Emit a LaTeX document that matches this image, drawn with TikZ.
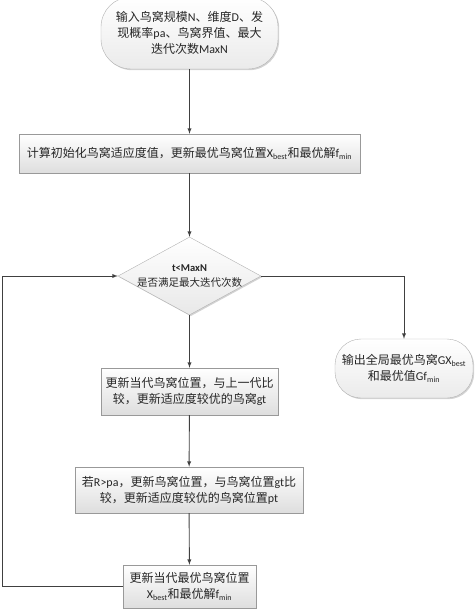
\documentclass[tikz,border=0pt]{standalone}
\usepackage{fontspec}
\setmainfont{Noto Sans CJK SC}
\newfontfamily\carlito{Carlito}
\newcommand{\lt}[1]{{\carlito #1}}
\usetikzlibrary{shapes.geometric,shadows}

\begin{document}
\begin{tikzpicture}[x=1pt,y=-1pt,>=latex,
 every node/.style={text=black!85,align=center,font=\fontsize{12}{16}\selectfont},
 box/.style={draw=black!40,top color=white,bottom color=black!13,
   drop shadow={opacity=.35,shadow xshift=1.2pt,shadow yshift=-1.2pt}},
 term/.style={box,rounded corners=30,draw=black!30,bottom color=black!8},
 decision/.style={diamond,box,draw=black!30,bottom color=black!9,inner sep=0,
   minimum width=143,minimum height=78},
 flow/.style={draw=black!75,line width=.9pt}]
 \useasboundingbox (0,0) rectangle (474,610);
 \node[term,minimum width=177,minimum height=72] (start) at (189.5,33)
   {输入鸟窝规模\lt{N}、维度\lt{D}、发\\现概率\lt{pa}、鸟窝界值、最大\\迭代次数\lt{MaxN}};
 \node[box,minimum width=341,minimum height=39] (init) at (189.5,153.5)
   {计算初始化鸟窝适应度值，更新最优鸟窝位置\lt{X\textsubscript{best}}和最优解\lt{f\textsubscript{min}}};
 \node[decision] (dia) at (189.5,276) {};
 \node[font=\fontsize{10.5}{15}\selectfont] (diatxt) at (dia) {\lt{\bfseries t<MaxN}\\是否满足最大迭代次数};
 \node[term,minimum width=138,minimum height=59,rounded corners=26] (out) at (404,368.5)
   {输出全局最优鸟窝\lt{GX\textsubscript{best}}\\和最优值\lt{Gf\textsubscript{min}}};
 \node[box,minimum width=177,minimum height=47] (upd) at (189.5,391.5)
   {更新当代鸟窝位置，与上一代比\\较，更新适应度较优的鸟窝\lt{gt}};
 \node[box,minimum width=228,minimum height=46] (cmp) at (189,490)
   {若\lt{R>pa}，更新鸟窝位置，与鸟窝位置\lt{gt}比\\较，更新适应度较优的鸟窝位置\lt{pt}};
 \node[box,minimum width=133,minimum height=43] (best) at (189.5,586.5)
   {更新当代最优鸟窝位置\\\lt{X\textsubscript{best}}和最优解\lt{f\textsubscript{min}}};
 \coordinate (loop) at (2,586.5);
 \draw[flow,->] (start) -- (init);
 \draw[flow,->] (init) -- (dia);
 \draw[flow,->] (dia) -- (upd);
 \draw[flow,->] (upd) -- (cmp);
 \draw[flow,->] (cmp) -- (best);
 \draw[flow,->] (dia.east) -| (out.north);
 \draw[flow,->] (best.west) -- (loop) |- (dia.west);
\end{tikzpicture}
\end{document}
